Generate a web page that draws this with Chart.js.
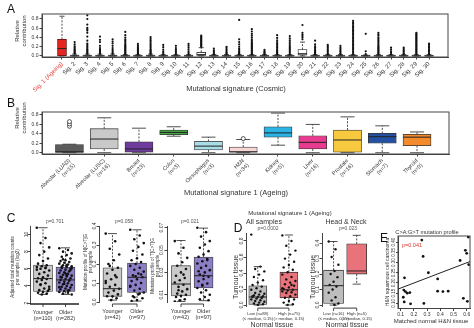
<!DOCTYPE html>
<html>
<head>
<meta charset="utf-8">
<title>Mutational signatures</title>
<script src="https://cdn.jsdelivr.net/npm/chart.js@4.4.1/dist/chart.umd.min.js"></script>
<style>
  body { margin: 0; background: #fff; }
  #fig { position: relative; width: 474px; height: 328px; overflow: hidden; font-family: "Liberation Sans", Arial, sans-serif; color: #333; }
  #fig canvas { position: absolute; }
  .t { position: absolute; white-space: nowrap; line-height: 1.15; text-align: center; transform: translate(-50%, -50%); }
  .r { transform: translate(-50%, -50%) rotate(-90deg); }
</style>
</head>
<body>
<div id="fig">
  <canvas id="cA"></canvas>
  <canvas id="cB"></canvas>
  <canvas id="cC1"></canvas>
  <canvas id="cC2"></canvas>
  <canvas id="cC3"></canvas>
  <canvas id="cD1"></canvas>
  <canvas id="cD2"></canvas>
  <canvas id="cE"></canvas>

  <div class="t" style="left:11px;top:10px;font-size:12px;color:#111">A</div>
  <div class="t r" style="left:20.5px;top:31px;font-size:6px">Relative<br>contribution</div>
  <div class="t" style="left:236px;top:88.5px;font-size:7.5px">Mutational signature (Cosmic)</div>

  <div class="t" style="left:11px;top:104px;font-size:12px;color:#111">B</div>
  <div class="t r" style="left:20.5px;top:118px;font-size:6px">Relative<br>contribution</div>
  <div class="t" style="left:236px;top:193px;font-size:7.5px">Mutational signature 1 (Ageing)</div>

  <div class="t" style="left:11px;top:219px;font-size:12px;color:#111">C</div>
  <div class="t" style="left:55px;top:221.5px;font-size:5px;color:#555">p=0.701</div>
  <div class="t" style="left:124px;top:221.5px;font-size:5px;color:#555">p=0.058</div>
  <div class="t" style="left:190px;top:221.5px;font-size:5px;color:#555">p=0.021</div>
  <div class="t r" style="left:15px;top:267px;font-size:4.6px">Adjusted total mutation counts<br>per sample (log2)</div>
  <div class="t r" style="left:88px;top:262px;font-size:4.6px">Mutation profile of N[C&gt;T]G<br>per sample</div>
  <div class="t r" style="left:155px;top:266px;font-size:4.6px">Mutation profile of T[C&gt;T]G<br>per sample</div>

  <div class="t" style="left:238px;top:229px;font-size:12px;color:#111">D</div>
  <div class="t" style="left:290px;top:213px;font-size:6px">Mutational signature 1 (Ageing)</div>
  <div class="t" style="left:264px;top:222px;font-size:7px">All samples</div>
  <div class="t" style="left:268px;top:228.5px;font-size:5px;color:#555">p=0.0002</div>
  <div class="t" style="left:346px;top:222px;font-size:7px">Head &amp; Neck</div>
  <div class="t" style="left:348px;top:228.5px;font-size:5px;color:#555">p=0.023</div>
  <div class="t r" style="left:236px;top:277px;font-size:7px">Tumour tissue</div>
  <div class="t r" style="left:313px;top:277px;font-size:7px">Tumour tissue</div>
  <div class="t" style="left:272px;top:324.5px;font-size:7px">Normal tissue</div>
  <div class="t" style="left:347px;top:324.5px;font-size:7px">Normal tissue</div>

  <div class="t" style="left:384px;top:239px;font-size:12px;color:#111">E</div>
  <div class="t" style="left:427px;top:232px;font-size:5.6px">C&gt;A:G&gt;T mutation profile</div>
  <div class="t" style="left:412px;top:245px;font-size:5.5px;color:#d9342b">p=0.041</div>
  <div class="t r" style="left:387.5px;top:272px;font-size:5px">H&amp;N squamous cell carcinoma</div>
  <div class="t" style="left:431px;top:321px;font-size:6px">Matched normal H&amp;N tissue</div>
</div>

<script>
Chart.defaults.font.family = '"Liberation Sans", Arial, sans-serif';
Chart.defaults.color = '#333';

// ---- A: contribution of each COSMIC signature ----
const sigLabels = ['Sig. 1 (Ageing)', 'Sig. 2', 'Sig. 3', 'Sig. 4', 'Sig. 5', 'Sig. 6', 'Sig. 7', 'Sig. 8', 'Sig. 9', 'Sig. 10',
  'Sig. 11', 'Sig. 12', 'Sig. 13', 'Sig. 14', 'Sig. 15', 'Sig. 16', 'Sig. 17', 'Sig. 18', 'Sig. 19', 'Sig. 20',
  'Sig. 21', 'Sig. 22', 'Sig. 23', 'Sig. 24', 'Sig. 25', 'Sig. 26', 'Sig. 27', 'Sig. 28', 'Sig. 29', 'Sig. 30'];
const sigLo  = [0, 0, 0, 0, 0, 0, 0, 0, 0, 0, 0, 0, 0, 0, 0, 0, 0, 0, 0, 0, 0, 0, 0, 0, 0, 0, 0, 0, 0, 0];
const sigQ1  = [0.005, 0, 0, 0, 0, 0, 0, 0, 0, 0, 0, 0, 0, 0, 0, 0, 0, 0, 0, 0.02, 0, 0, 0, 0, 0, 0, 0, 0, 0, 0];
const sigMed = [0.16, 0, 0, 0, 0, 0, 0, 0, 0, 0, 0, 0.03, 0, 0, 0, 0, 0, 0, 0, 0.05, 0, 0, 0, 0, 0, 0, 0, 0, 0, 0];
const sigQ3  = [0.36, 0.02, 0.02, 0.02, 0.02, 0.02, 0.02, 0.02, 0.02, 0.02, 0.02, 0.08, 0.02, 0.02, 0.02,
  0.02, 0.02, 0.02, 0.02, 0.14, 0.02, 0.02, 0.02, 0.02, 0.02, 0.02, 0.02, 0.02, 0.02, 0.02];
const sigHi  = [0.86, 0.04, 0.04, 0.04, 0.04, 0.03, 0.03, 0.04, 0.03, 0.03, 0.03, 0.18, 0.03, 0.03, 0.03,
  0.03, 0.03, 0.03, 0.03, 0.3, 0.03, 0.03, 0.03, 0.03, 0.02, 0.03, 0.03, 0.03, 0.03, 0.03];
const sigOut = [
  [],
  [0.05, 0.07, 0.09, 0.11, 0.13, 0.15, 0.18, 0.21, 0.25, 0.3],
  [0.05, 0.07, 0.09, 0.11, 0.13, 0.15, 0.18, 0.21, 0.24, 0.27, 0.33, 0.42, 0.5, 0.55, 0.58, 0.61, 0.68, 0.8, 0.88],
  [0.05, 0.07, 0.09, 0.12, 0.14, 0.17, 0.22, 0.3, 0.35, 0.42],
  [0.05, 0.07, 0.1, 0.13, 0.17, 0.22, 0.27, 0.31, 0.36],
  [0.04, 0.06, 0.08, 0.1, 0.12, 0.14, 0.16, 0.18, 0.2, 0.22, 0.24, 0.27, 0.3, 0.33, 0.36, 0.4, 0.45, 0.52],
  [0.04, 0.06, 0.08, 0.1, 0.12, 0.14, 0.16, 0.19, 0.22, 0.26],
  [0.04, 0.06, 0.08, 0.1, 0.12, 0.14, 0.17, 0.2, 0.23, 0.26, 0.3, 0.33, 0.37, 0.41],
  [0.04, 0.07, 0.1, 0.14, 0.19, 0.24],
  [0.04, 0.07, 0.1, 0.13, 0.17, 0.22],
  [0.04, 0.07, 0.1, 0.14, 0.18, 0.22, 0.26],
  [0.2, 0.22, 0.24, 0.26, 0.28, 0.3, 0.32, 0.34, 0.36, 0.38, 0.4, 0.42, 0.44],
  [0.04, 0.06, 0.09, 0.12, 0.16],
  [0.04, 0.06, 0.08, 0.11, 0.14, 0.17, 0.2],
  [0.04, 0.06, 0.08, 0.1, 0.13, 0.16, 0.2, 0.25, 0.3, 0.36, 0.78],
  [0.04, 0.06, 0.08, 0.1, 0.12, 0.14, 0.16, 0.18, 0.2, 0.22, 0.24, 0.26, 0.28, 0.3, 0.33, 0.36, 0.4, 0.44, 0.48, 0.53, 0.58],
  [0.04, 0.06, 0.08, 0.1, 0.13],
  [0.04, 0.06, 0.08, 0.1, 0.12, 0.15, 0.18, 0.21, 0.24, 0.27, 0.3, 0.34, 0.39, 0.45],
  [0.04, 0.07, 0.1, 0.13, 0.16, 0.19, 0.22, 0.26, 0.3, 0.34, 0.38, 0.43],
  [0.36, 0.4, 0.43, 0.46, 0.5, 0.67],
  [0.04, 0.06, 0.08, 0.1, 0.12, 0.15, 0.18, 0.21, 0.25, 0.33],
  [0.04, 0.06, 0.09, 0.12, 0.15, 0.18, 0.21, 0.24],
  [0.04, 0.06, 0.09, 0.12, 0.15, 0.18, 0.22],
  [0.04, 0.07, 0.1, 0.13, 0.16, 0.19, 0.22, 0.25, 0.28, 0.31, 0.34, 0.37, 0.4, 0.43, 0.46, 0.49, 0.52, 0.55, 0.58, 0.61, 0.64, 0.67, 0.7, 0.73, 0.76],
  [0.04, 0.1, 0.48],
  [0.04, 0.06, 0.08, 0.1, 0.12, 0.14, 0.16, 0.18, 0.2, 0.22, 0.25, 0.28, 0.31, 0.34, 0.37, 0.4, 0.44, 0.47, 0.5],
  [0.04, 0.07, 0.1, 0.14, 0.18],
  [0.04, 0.06, 0.09, 0.12, 0.15, 0.18],
  [0.04, 0.06, 0.08, 0.1, 0.12, 0.14, 0.16, 0.18, 0.2, 0.22, 0.24, 0.26, 0.28, 0.3, 0.32, 0.34, 0.36, 0.38, 0.4, 0.42, 0.44, 0.46, 0.48, 0.5],
  [0.04, 0.06, 0.09, 0.12, 0.15, 0.18, 0.21, 0.24, 0.27]
];

// ---- B: signature 1 by tissue ----
const tissueLabels = [['Alveolar (LUAD)', '(n=15)'], ['Alveolar (LUSC)', '(n=16)'], ['Breast', '(n=23)'], ['Colon', '(n=3)'],
  ['Oesophagus', '(n=3)'], ['H&N', '(n=34)'], ['Kidney', '(n=5)'], ['Liver', '(n=16)'], ['Prostate', '(n=16)'],
  ['Stomach', '(n=7)'], ['Thyroid', '(n=9)']];
const tissueLo  = [0, 0, 0, 0.35, 0, 0, 0.16, 0, 0, 0, 0];
const tissueQ1  = [0.005, 0.08, 0.0, 0.38, 0.06, 0.0, 0.33, 0.08, 0.0, 0.2, 0.15];
const tissueMed = [0.02, 0.29, 0.08, 0.43, 0.14, 0.02, 0.42, 0.22, 0.27, 0.34, 0.33];
const tissueQ3  = [0.17, 0.51, 0.23, 0.48, 0.24, 0.12, 0.55, 0.36, 0.48, 0.41, 0.39];
const tissueHi  = [0.18, 0.74, 0.52, 0.55, 0.33, 0.28, 0.84, 0.6, 0.76, 0.57, 0.44];
const tissueOut = [[0.56, 0.61, 0.66], [], [], [], [], [0.3], [], [], [], [], []];
const tissueColors = ['#5b5b5b', '#c9c9c9', '#6f3b9e', '#45a845', '#a9dde7', '#f8d5d5', '#2db4e6', '#e83a8e', '#f7c93e', '#2450a2', '#f38a2b'];

// ---- C: younger vs older ----
const ageLabels1 = [['Younger', '(n=110)'], ['Older', '(n=282)']];
const ageLabels2 = [['Younger', '(n=42)'], ['Older', '(n=97)']];
const c1Lo = [3.0, 3.0], c1Q1 = [3.34, 3.34], c1Med = [4.85, 4.7], c1Q3 = [6.43, 6.2], c1Hi = [10.8, 8.45];
const c1Young = [10.8, 9.6, 9.0, 8.5, 8.0, 7.6, 7.2, 6.9, 6.6, 6.4, 6.3, 6.2, 6.1, 6.0, 5.8, 5.6, 5.4, 5.2, 5.0,
  4.9, 4.8, 4.7, 4.5, 4.3, 4.1, 3.9, 3.7, 3.5, 3.4, 3.3, 3.2, 3.1, 3.0, 5.9, 6.1, 4.2, 3.6];
const c1Old = [8.4, 8.2, 8.0, 7.8, 7.6, 7.4, 7.2, 7.0, 6.9, 6.8, 6.7, 6.6, 6.5, 6.4, 6.3, 6.2, 6.1, 6.0, 5.9, 5.8,
  5.7, 5.6, 5.5, 5.4, 5.3, 5.2, 5.1, 5.0, 4.9, 4.8, 4.7, 4.6, 4.5, 4.4, 4.3, 4.2, 4.1, 4.0, 3.9, 3.8, 3.7, 3.6,
  3.5, 3.4, 3.3, 3.2, 3.1, 3.0, 6.45, 6.25, 5.85, 5.45, 5.05, 4.65, 4.25, 3.85, 3.45, 7.1, 6.05, 5.25];
const c2Lo = [0.03, 0.025], c2Q1 = [0.05, 0.07], c2Med = [0.09, 0.15], c2Q3 = [0.2, 0.225], c2Hi = [0.38, 0.4];
const c2Young = [0.38, 0.34, 0.3, 0.27, 0.24, 0.22, 0.2, 0.19, 0.17, 0.15, 0.14, 0.12, 0.11, 0.1, 0.09, 0.08,
  0.07, 0.06, 0.05, 0.05, 0.04, 0.03, 0.13, 0.16, 0.21];
const c2Old = [0.4, 0.37, 0.35, 0.33, 0.31, 0.29, 0.27, 0.25, 0.24, 0.23, 0.22, 0.21, 0.2, 0.19, 0.18, 0.17, 0.16,
  0.15, 0.14, 0.13, 0.12, 0.11, 0.1, 0.09, 0.08, 0.07, 0.06, 0.05, 0.04, 0.03, 0.025, 0.165, 0.155, 0.105, 0.065, 0.045];
const c3Lo = [0.004, 0.0047], c3Q1 = [0.009, 0.016], c3Med = [0.0196, 0.027], c3Q3 = [0.036, 0.0437], c3Hi = [0.0585, 0.0696];
const c3Young = [0.058, 0.052, 0.047, 0.043, 0.039, 0.036, 0.033, 0.03, 0.027, 0.025, 0.023, 0.021, 0.019, 0.017,
  0.015, 0.013, 0.011, 0.01, 0.009, 0.008, 0.006, 0.005, 0.004, 0.028, 0.014];
const c3Old = [0.07, 0.066, 0.062, 0.058, 0.055, 0.052, 0.049, 0.046, 0.044, 0.042, 0.04, 0.038, 0.036, 0.034, 0.032,
  0.03, 0.028, 0.026, 0.024, 0.022, 0.02, 0.018, 0.016, 0.014, 0.012, 0.01, 0.008, 0.006, 0.005, 0.027, 0.031, 0.041, 0.019];

// ---- D: signature 1 in tumour vs normal tissue ----
const normLabels1 = [['Low (n=88)', '(\u2264 median, 0.15)'], ['High (n=75)', '(> median, 0.15)']];
const normLabels2 = [['Low (n=16)', '(\u2264 median, 0.15)'], ['High (n=5)', '(> median, 0.15)']];
const d1Lo = [0, 0], d1Q1 = [0.0, 0.09], d1Med = [0.1, 0.19], d1Q3 = [0.24, 0.41], d1Hi = [0.48, 0.875];
const d1Low = [0.88, 0.48, 0.45, 0.42, 0.38, 0.35, 0.31, 0.28, 0.25, 0.23, 0.21, 0.19, 0.17, 0.15, 0.14, 0.13, 0.12,
  0.11, 0.1, 0.1, 0.09, 0.08, 0.07, 0.06, 0.05, 0.04, 0.03, 0.02, 0.01, 0.0, 0.11, 0.09];
const d1High = [0.87, 0.8, 0.74, 0.68, 0.63, 0.58, 0.54, 0.5, 0.47, 0.44, 0.41, 0.38, 0.35, 0.32, 0.3, 0.28, 0.26,
  0.24, 0.22, 0.2, 0.19, 0.18, 0.17, 0.16, 0.15, 0.13, 0.11, 0.09, 0.07, 0.05, 0.03, 0.01, 0.0, 0.21, 0.25];
const d2Lo = [0, 0.135], d2Q1 = [0.01, 0.2], d2Med = [0.125, 0.22], d2Q3 = [0.225, 0.395], d2Hi = [0.41, 0.45];
const d2Low = [0.41, 0.36, 0.31, 0.26, 0.22, 0.2, 0.18, 0.15, 0.13, 0.12, 0.1, 0.08, 0.05, 0.03, 0.01, 0.0];

// ---- E: normal vs tumour C>A:G>T ----
const eX = [0.26, 0.27, 0.31, 0.38, 0.38, 0.42, 0.46, 0.55, 0.59, 0.6, 0.612, 0.615, 0.575, 0.605, 0.276, 0.175,
  0.129, 0.124, 0.136, 0.15, 0.17, 0.12, 0.127];
const eY = [0.41, 0.33, 0.25, 0.22, 0.16, 0.158, 0.16, 0.31, 0.36, 0.345, 0.425, 0.29, 0.125, 0.11, 0.1, 0.098,
  0.225, 0.165, 0.158, 0.15, 0.153, 0.13, 0.107];
const trendX = [0.08, 0.625];
const trendY = [0.17, 0.305];

// whiskers, caps, medians, frame and bracket drawn from the chart's scales
function boxPlugin(s) {
  return {
    id: 'boxes',
    beforeDatasetsDraw(chart) {
      const { ctx, scales: { x, y } } = chart;
      ctx.save();
      ctx.strokeStyle = '#222';
      ctx.lineWidth = 0.8;
      s.hi.forEach((hi, i) => {
        const px = x.getPixelForValue(i);
        ctx.setLineDash([2, 1.4]);
        [[s.q3[i], hi], [s.q1[i], s.lo[i]]].forEach(([a, b]) => {
          if (a === b) return;
          ctx.beginPath();
          ctx.moveTo(px, y.getPixelForValue(a));
          ctx.lineTo(px, y.getPixelForValue(b));
          ctx.stroke();
        });
        ctx.setLineDash([]);
        [hi, s.lo[i]].forEach(v => {
          const py = y.getPixelForValue(v);
          ctx.beginPath();
          ctx.moveTo(px - s.cap / 2, py);
          ctx.lineTo(px + s.cap / 2, py);
          ctx.stroke();
        });
      });
      ctx.restore();
    },
    afterDatasetsDraw(chart) {
      const { ctx, chartArea: a, scales: { x, y } } = chart;
      ctx.save();
      ctx.strokeStyle = '#222';
      ctx.lineWidth = 1;
      s.med.forEach((m, i) => {
        const px = x.getPixelForValue(i), py = y.getPixelForValue(m);
        ctx.beginPath();
        ctx.moveTo(px - s.boxW / 2, py);
        ctx.lineTo(px + s.boxW / 2, py);
        ctx.stroke();
      });
      if (s.frame) {
        ctx.strokeStyle = '#444';
        ctx.strokeRect(a.left, a.top, a.right - a.left, a.bottom - a.top);
      }
      if (s.bracket) {
        const yb = a.bottom + s.bracket.gap;
        const x0 = s.bracket.full ? a.left : x.getPixelForValue(0);
        const x1 = s.bracket.full ? a.right : x.getPixelForValue(s.med.length - 1);
        ctx.strokeStyle = '#222';
        ctx.lineWidth = s.bracket.lw;
        ctx.beginPath();
        ctx.moveTo(x0, yb);
        ctx.lineTo(x1, yb);
        ctx.stroke();
        ctx.lineWidth = 0.8;
        s.med.forEach((m, i) => {
          const px = x.getPixelForValue(i);
          ctx.beginPath();
          ctx.moveTo(px, yb);
          ctx.lineTo(px, yb + 3);
          ctx.stroke();
        });
      }
      ctx.restore();
    }
  };
}

function setCanvas(id, box) {
  const cv = document.getElementById(id);
  cv.width = box[2];
  cv.height = box[3];
  cv.style.left = box[0] + 'px';
  cv.style.top = box[1] + 'px';
  return cv;
}

// box plot chart; box = canvas [left, top, w, h], area = plot [left, top, right, bottom] in page px
function boxChart(id, box, area, s) {
  const [L, T, W, H] = box;
  const [pl, pt, pr, pb] = area;
  const cv = setCanvas(id, box);
  const pts = [];
  s.points.forEach((arr, i) => arr.forEach((v, k) => {
    pts.push({ x: i + s.spread * (((k * 7) % 11) / 10 - 0.5), y: v });
  }));
  return new Chart(cv, {
    type: 'bar',
    data: {
      datasets: [
        {
          data: s.q3.map((v, i) => ({ x: i, y: [s.q1[i], v] })),
          backgroundColor: s.fill,
          borderColor: s.edge,
          borderWidth: 0.8,
          borderSkipped: false,
          barThickness: s.boxW,
          order: 2
        },
        {
          type: 'scatter',
          data: pts,
          pointRadius: s.r,
          pointBackgroundColor: s.ptFill || '#111',
          pointBorderColor: '#111',
          pointBorderWidth: s.ptLine || 0,
          order: 1
        }
      ]
    },
    options: {
      responsive: false,
      animation: false,
      events: [],
      layout: { padding: { top: pt - T, right: L + W - pr, left: 0, bottom: 0 } },
      plugins: { legend: { display: false }, tooltip: { enabled: false } },
      scales: {
        x: {
          type: 'linear',
          min: s.xMin,
          max: s.xMax,
          offset: false,
          afterBuildTicks: ax => { ax.ticks = s.labels.map((_, i) => ({ value: i })); },
          afterFit: ax => { ax.height = T + H - pb; },
          ticks: {
            autoSkip: false,
            callback: v => s.labels[v],
            font: { size: s.xFont, lineHeight: 1.2 },
            color: s.xColor || '#333',
            padding: s.xPad,
            minRotation: s.xRot,
            maxRotation: s.xRot
          },
          grid: { display: s.frame, drawOnChartArea: false, drawTicks: s.frame, tickLength: 2.5, color: '#444', offset: false },
          border: { display: s.frame, color: '#444' }
        },
        y: {
          min: s.yMin,
          max: s.yMax,
          afterFit: ax => { ax.width = pl - L; },
          ticks: {
            stepSize: s.yStep,
            includeBounds: false,
            font: { size: 5 },
            color: '#333',
            padding: s.yRot ? -2 : 1,
            callback: v => v.toFixed(s.yDec),
            minRotation: s.yRot,
            maxRotation: s.yRot,
            crossAlign: s.yRot ? 'center' : 'near'
          },
          grid: { drawOnChartArea: false, tickLength: 2.5, color: '#444' },
          border: { color: '#444' }
        }
      }
    },
    plugins: [boxPlugin(s)]
  });
}

// A
boxChart('cA', [0, 6, 474, 88], [42, 14, 448, 57], {
  labels: sigLabels, lo: sigLo, q1: sigQ1, med: sigMed, q3: sigQ3, hi: sigHi, points: sigOut,
  fill: sigLabels.map((l, i) => i === 0 ? '#e3261f' : (i === 11 || i === 19) ? '#ffffff' : '#111'),
  edge: sigLabels.map((l, i) => i === 0 ? '#5a1010' : '#111'),
  boxW: 9, cap: 5, r: 1.1, spread: 0, frame: true,
  xMin: -1.58, xMax: 30.5, xFont: 6, xRot: 45, xPad: 1,
  xColor: c => c.index === 0 ? '#e0463c' : '#333',
  yMin: -0.022, yMax: 0.908, yStep: 0.2, yDec: 1, yRot: 0
});

// B
boxChart('cB', [0, 104, 474, 90], [42, 112, 449, 154], {
  labels: tissueLabels, lo: tissueLo, q1: tissueQ1, med: tissueMed, q3: tissueQ3, hi: tissueHi, points: tissueOut,
  fill: tissueColors, edge: '#333', boxW: 28, cap: 14, r: 2, ptFill: '#fff', ptLine: 0.7, spread: 0, frame: true,
  xMin: -0.79, xMax: 10.92, xFont: 5.5, xRot: 45, xPad: 1,
  yMin: -0.027, yMax: 0.863, yStep: 0.2, yDec: 1, yRot: 0
});

// C
const cCommon = { fill: ['#c9c9c9', '#8c7fc6'], edge: '#333', boxW: 19, cap: 9, r: 1.3, spread: 0.55, frame: false,
  xFont: 5.5, xRot: 0, xPad: 6, yRot: 90 };
boxChart('cC1', [0, 220, 84, 108], [30, 226, 79, 303], Object.assign({}, cCommon, {
  labels: ageLabels1, lo: c1Lo, q1: c1Q1, med: c1Med, q3: c1Q3, hi: c1Hi, points: [c1Young, c1Old],
  xMin: -0.578, xMax: 1.6, yMin: 2, yMax: 11, yStep: 2, yDec: 0,
  bracket: { gap: 1, full: true, lw: 1.4 }
}));
boxChart('cC2', [84, 220, 72, 108], [99, 226, 150, 302], Object.assign({}, cCommon, {
  labels: ageLabels2, lo: c2Lo, q1: c2Q1, med: c2Med, q3: c2Q3, hi: c2Hi, points: [c2Young, c2Old],
  xMin: -0.55, xMax: 1.53, yMin: 0.02, yMax: 0.42, yStep: 0.1, yDec: 1,
  bracket: { gap: 2, full: false, lw: 0.9 }
}));
boxChart('cC3', [156, 220, 68, 108], [167, 226, 218, 302], Object.assign({}, cCommon, {
  labels: ageLabels2, lo: c3Lo, q1: c3Q1, med: c3Med, q3: c3Q3, hi: c3Hi, points: [c3Young, c3Old],
  xMin: -0.62, xMax: 1.64, yMin: 0.0035, yMax: 0.0715, yStep: 0.01, yDec: 2,
  bracket: { gap: 2, full: false, lw: 0.9 }
}));

// D
const dCommon = { fill: ['#bdbdbd', '#e8737b'], edge: '#333', cap: 8, r: 1.2, spread: 0.42, frame: false,
  xFont: 4.2, xRot: 0, xPad: 4.5, yRot: 90, bracket: { gap: 1.5, full: false, lw: 0.9 } };
boxChart('cD1', [228, 228, 82, 100], [246, 233, 305, 306.6], Object.assign({}, dCommon, {
  labels: normLabels1, lo: d1Lo, q1: d1Q1, med: d1Med, q3: d1Q3, hi: d1Hi, points: [d1Low, d1High],
  boxW: 18, xMin: -0.38, xMax: 1.49, yMin: -0.02, yMax: 0.9, yStep: 0.2, yDec: 1
}));
boxChart('cD2', [302, 228, 76, 100], [322, 233, 372, 306.6], Object.assign({}, dCommon, {
  labels: normLabels2, lo: d2Lo, q1: d2Q1, med: d2Med, q3: d2Q3, hi: d2Hi, points: [d2Low, []],
  boxW: 20, xMin: -0.5, xMax: 1.5, yMin: -0.01, yMax: 0.465, yStep: 0.1, yDec: 1
}));

// E
(function () {
  const box = [378, 230, 96, 98];
  const area = [398, 236, 471.5, 308.5];
  const cv = setCanvas('cE', box);
  new Chart(cv, {
    type: 'scatter',
    data: {
      datasets: [
        { data: eX.map((v, i) => ({ x: v, y: eY[i] })), pointRadius: 1.4, pointBackgroundColor: '#111', pointBorderWidth: 0 },
        { type: 'line', data: trendX.map((v, i) => ({ x: v, y: trendY[i] })), borderColor: '#222', borderWidth: 1, pointRadius: 0 }
      ]
    },
    options: {
      responsive: false,
      animation: false,
      events: [],
      layout: { padding: { top: area[1] - box[1], right: box[0] + box[2] - area[2], left: 0, bottom: 0 } },
      plugins: { legend: { display: false }, tooltip: { enabled: false } },
      scales: {
        x: {
          type: 'linear', min: 0.08, max: 0.625,
          afterFit: ax => { ax.height = box[1] + box[3] - area[3]; },
          ticks: { stepSize: 0.1, includeBounds: false, font: { size: 5 }, padding: 1, maxRotation: 0, callback: v => v.toFixed(1) },
          grid: { drawOnChartArea: false, tickLength: 2.5, color: '#444' },
          border: { color: '#444' }
        },
        y: {
          min: 0.075, max: 0.43,
          afterFit: ax => { ax.width = area[0] - box[0]; },
          ticks: { stepSize: 0.05, includeBounds: false, font: { size: 4.5 }, padding: -2.5, minRotation: 90, maxRotation: 90,
            crossAlign: 'center', callback: v => v.toFixed(2) },
          grid: { drawOnChartArea: false, tickLength: 2, color: '#444' },
          border: { color: '#444' }
        }
      }
    },
    plugins: [{
      id: 'frame',
      afterDatasetsDraw(chart) {
        const { ctx, chartArea: a } = chart;
        ctx.save();
        ctx.strokeStyle = '#444';
        ctx.lineWidth = 1;
        ctx.strokeRect(a.left, a.top, a.right - a.left, a.bottom - a.top);
        ctx.restore();
      }
    }]
  });
})();
</script>
</body>
</html>
